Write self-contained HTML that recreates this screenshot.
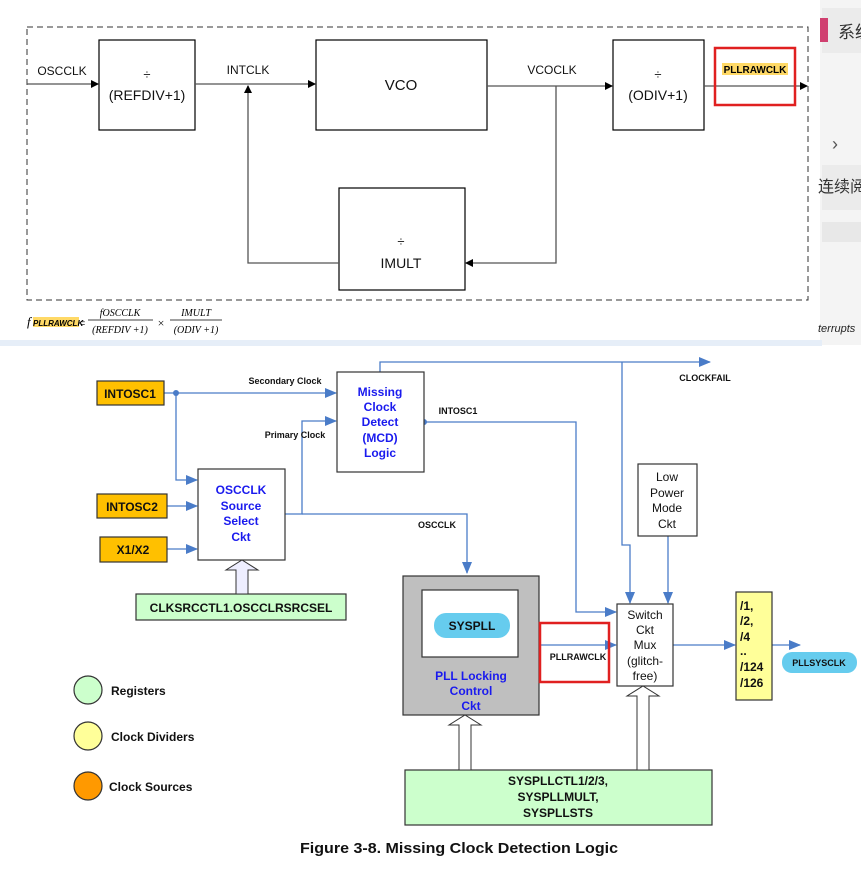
<!DOCTYPE html>
<html><head><meta charset="utf-8"><style>
body{margin:0;width:861px;height:870px;background:#fff;overflow:hidden;font-family:"Liberation Sans","Noto Sans CJK SC",sans-serif}
</style></head><body>
<svg width="861" height="870" xmlns="http://www.w3.org/2000/svg" font-family="Liberation Sans, Noto Sans CJK SC, sans-serif">
<defs>
<marker id="ak" markerWidth="8" markerHeight="8" refX="7" refY="4" orient="auto" markerUnits="userSpaceOnUse"><path d="M0,0L8,4L0,8z" fill="#000"/></marker>
<marker id="ab" markerWidth="12" markerHeight="10" refX="11" refY="5" orient="auto" markerUnits="userSpaceOnUse"><path d="M0,0L12,5L0,10z" fill="#4a7cc8"/></marker>
</defs>
<rect x="820" y="0" width="41" height="345" fill="#f4f4f4"/>
<rect x="822" y="8" width="39" height="45" fill="#ebebeb"/>
<rect x="820" y="18" width="8" height="24" fill="#d04070"/>
<text x="838" y="38" font-size="17" fill="#333">系统</text>
<text x="832" y="150" font-size="18" fill="#555">›</text>
<rect x="822" y="165" width="39" height="45" fill="#ebebeb"/>
<text x="818" y="192" font-size="16" fill="#333">连续阅</text>
<rect x="822" y="222" width="39" height="20" fill="#e8e8e8"/>
<text x="818" y="332" font-size="11" font-style="italic" fill="#222">terrupts</text>
<rect x="0" y="340" width="822" height="6" fill="#e6eef8"/>
<rect x="27" y="27" width="781" height="273" fill="none" stroke="#333" stroke-dasharray="6,4"/>
<g fill="#fff" stroke="#000" stroke-width="1.2">
<rect x="99" y="40" width="96" height="90"/><rect x="316" y="40" width="171" height="90"/>
<rect x="613" y="40" width="91" height="90"/><rect x="339" y="188" width="126" height="102"/>
</g>
<g stroke="#555" stroke-width="1.3" fill="none">
<line x1="27" y1="84" x2="98" y2="84" marker-end="url(#ak)"/>
<line x1="195" y1="84" x2="315" y2="84" marker-end="url(#ak)"/>
<polyline points="339,263 248,263 248,86" marker-end="url(#ak)"/>
<line x1="487" y1="86" x2="612" y2="86" marker-end="url(#ak)"/>
<polyline points="556,86 556,263 466,263" marker-end="url(#ak)"/>
<line x1="704" y1="86" x2="807" y2="86" marker-end="url(#ak)"/>
</g>
<g font-size="12" fill="#111" text-anchor="middle">
<text x="62" y="75">OSCCLK</text><text x="248" y="74">INTCLK</text><text x="552" y="74">VCOCLK</text>
<text x="147" y="79" font-size="13">÷</text><text x="147" y="100" font-size="14">(REFDIV+1)</text>
<text x="401" y="90" font-size="15">VCO</text>
<text x="658" y="79" font-size="13">÷</text><text x="658" y="100" font-size="14">(ODIV+1)</text>
<text x="401" y="246" font-size="13">÷</text><text x="401" y="268" font-size="14">IMULT</text>
</g>
<rect x="722" y="63" width="66" height="12" fill="#ffd966"/>
<text x="755" y="73" font-size="10" font-weight="bold" text-anchor="middle">PLLRAWCLK</text>
<rect x="715" y="48" width="80" height="57" fill="none" stroke="#e02020" stroke-width="2.5"/>
<text x="27" y="326" font-size="13" font-style="italic" font-family="Liberation Serif,serif">f</text>
<rect x="33" y="317" width="46" height="10" fill="#ffd966"/>
<text x="33" y="326" font-size="8" font-weight="bold" font-style="italic">PLLRAWCLK</text>
<text x="80" y="326" font-size="9">=</text>
<g font-family="Liberation Serif,serif" font-style="italic" font-size="10" text-anchor="middle">
<text x="120" y="316">fOSCCLK</text><line x1="88" y1="320" x2="153" y2="320" stroke="#000" stroke-width="0.8"/><text x="120" y="333">(REFDIV +1)</text>
<text x="161" y="327" font-style="normal" font-size="12">×</text>
<text x="196" y="316">IMULT</text><line x1="170" y1="320" x2="222" y2="320" stroke="#000" stroke-width="0.8"/><text x="196" y="333">(ODIV +1)</text>
</g>
<g stroke="#4a7cc8" stroke-width="1.3" fill="none">
<line x1="164" y1="393" x2="336" y2="393" marker-end="url(#ab)"/>
<polyline points="176,393 176,480 197,480" marker-end="url(#ab)"/>
<line x1="167" y1="506" x2="197" y2="506" marker-end="url(#ab)"/>
<line x1="167" y1="549" x2="197" y2="549" marker-end="url(#ab)"/>
<polyline points="285,514 302,514 302,421 336,421" marker-end="url(#ab)"/>
<polyline points="302,514 467,514 467,573" marker-end="url(#ab)"/>
<polyline points="380,372 380,362 710,362" marker-end="url(#ab)"/>
<polyline points="622,362 622,545 630,545 630,603" marker-end="url(#ab)"/>
<polyline points="424,422 576,422 576,612 616,612" marker-end="url(#ab)"/>
<line x1="668" y1="536" x2="668" y2="603" marker-end="url(#ab)"/>
<line x1="539" y1="645" x2="616" y2="645" marker-end="url(#ab)"/>
<line x1="673" y1="645" x2="735" y2="645" marker-end="url(#ab)"/>
<line x1="772" y1="645" x2="800" y2="645" marker-end="url(#ab)"/>
</g>
<circle cx="176" cy="393" r="3" fill="#4a7cc8"/><circle cx="424" cy="422" r="3" fill="#4a7cc8"/>
<g stroke="#333" stroke-width="1.2">
<rect x="97" y="381" width="67" height="24" fill="#ffc000"/>
<rect x="97" y="494" width="70" height="24" fill="#ffc000"/>
<rect x="100" y="537" width="67" height="25" fill="#ffc000"/>
<rect x="198" y="469" width="87" height="91" fill="#fff"/>
<rect x="337" y="372" width="87" height="100" fill="#fff"/>
<rect x="638" y="464" width="59" height="72" fill="#fff"/>
<rect x="617" y="604" width="56" height="82" fill="#fff"/>
<rect x="736" y="592" width="36" height="108" fill="#ffff99"/>
<rect x="403" y="576" width="136" height="139" fill="#bfbfbf"/>
<rect x="422" y="590" width="96" height="67" fill="#fff"/>
<rect x="136" y="594" width="210" height="26" fill="#ccffcc"/>
<rect x="405" y="770" width="307" height="55" fill="#ccffcc"/>
<circle cx="88" cy="690" r="14" fill="#ccffcc"/>
<circle cx="88" cy="736" r="14" fill="#ffff99"/>
<circle cx="88" cy="786" r="14" fill="#ff9900"/>
</g>
<rect x="434" y="613" width="76" height="25" rx="12" fill="#66ccee"/>
<rect x="782" y="652" width="75" height="21" rx="10" fill="#66ccee"/>
<g fill="#eef" stroke="#333" stroke-width="1">
<path d="M236,594 L236,570 L226,570 L242,560 L258,570 L248,570 L248,594 Z"/>
<path d="M459,770 L459,725 L449,725 L465,715 L481,725 L471,725 L471,770 Z" fill="#fff"/>
<path d="M637,770 L637,696 L627,696 L643,686 L659,696 L649,696 L649,770 Z" fill="#fff"/>
</g>
<rect x="540" y="623" width="69" height="59" fill="none" stroke="#e02020" stroke-width="2.5"/>
<g font-weight="bold" font-size="12" text-anchor="middle" fill="#111">
<text x="130" y="398">INTOSC1</text><text x="132" y="511">INTOSC2</text><text x="133" y="554">X1/X2</text>
<text x="241" y="612" font-size="12">CLKSRCCTL1.OSCCLRSRCSEL</text>
<text x="472" y="630">SYSPLL</text>
<text x="819" y="666" font-size="9">PLLSYSCLK</text>
<text x="578" y="660" font-size="9">PLLRAWCLK</text>
<text x="285" y="384" font-size="9">Secondary Clock</text>
<text x="295" y="438" font-size="9">Primary Clock</text>
<text x="458" y="414" font-size="9">INTOSC1</text>
<text x="437" y="528" font-size="9">OSCCLK</text>
<text x="705" y="381" font-size="9">CLOCKFAIL</text>
<text x="558" y="785">SYSPLLCTL1/2/3,</text><text x="558" y="801">SYSPLLMULT,</text><text x="558" y="817">SYSPLLSTS</text>
<text x="459" y="853" font-size="15" textLength="318" lengthAdjust="spacingAndGlyphs">Figure 3-8. Missing Clock Detection Logic</text>
</g>
<g font-weight="bold" font-size="12" text-anchor="middle" fill="#1a1aee">
<text x="241" y="494">OSCCLK</text><text x="241" y="510">Source</text><text x="241" y="525">Select</text><text x="241" y="541">Ckt</text>
<text x="380" y="396">Missing</text><text x="380" y="411">Clock</text><text x="380" y="426">Detect</text><text x="380" y="442">(MCD)</text><text x="380" y="457">Logic</text>
<text x="471" y="680">PLL Locking</text><text x="471" y="695">Control</text><text x="471" y="710">Ckt</text>
</g>
<g font-size="12" text-anchor="middle" fill="#111">
<text x="667" y="481">Low</text><text x="667" y="497">Power</text><text x="667" y="512">Mode</text><text x="667" y="528">Ckt</text>
<text x="645" y="619">Switch</text><text x="645" y="634">Ckt</text><text x="645" y="649">Mux</text><text x="645" y="665">(glitch-</text><text x="645" y="680">free)</text>
</g>
<g font-size="12" font-weight="bold" fill="#111">
<text x="740" y="610">/1,</text><text x="740" y="625">/2,</text><text x="740" y="641">/4</text><text x="740" y="655">..</text><text x="740" y="671">/124</text><text x="740" y="687">/126</text>
<text x="111" y="695">Registers</text><text x="111" y="741">Clock Dividers</text><text x="109" y="791">Clock Sources</text>
</g>
</svg>
</body></html>
